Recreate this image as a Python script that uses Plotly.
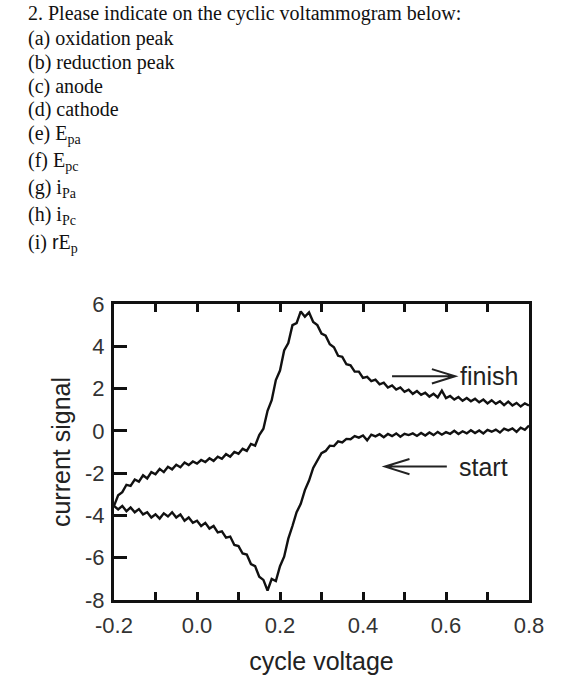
import plotly.graph_objects as go

# ---------------- data ----------------
# cathodic (start) sweep: 0.80 V -> -0.20 V, 0.01 V steps
start_current = [
    0.25, 0.05, 0.15, -0.05, 0.12, 0.02, 0.10, -0.08, 0.06, -0.04,
    0.05, -0.12, 0.02, -0.10, 0.03, -0.12, -0.02, -0.15, 0.00, -0.14,
    -0.06, -0.18, -0.05, -0.20, -0.08, -0.22, -0.10, -0.24, -0.12, -0.20,
    -0.14, -0.28, -0.12, -0.25, -0.15, -0.30, -0.16, -0.26, -0.18, -0.45,
    -0.22, -0.32, -0.25, -0.40, -0.38, -0.55, -0.50, -0.72, -0.70, -0.95,
    -1.05, -1.40, -1.75, -2.35, -2.80, -3.45, -3.85, -4.50, -5.10, -5.95,
    -6.40, -7.10, -7.00, -7.55, -7.05, -6.90, -6.40, -6.30, -5.85, -5.80,
    -5.45, -5.40, -5.00, -5.05, -4.75, -4.80, -4.50, -4.62, -4.35, -4.50,
    -4.25, -4.35, -4.10, -4.25, -3.95, -4.10, -3.85, -4.05, -3.90, -4.15,
    -3.95, -4.10, -3.85, -3.95, -3.70, -3.85, -3.62, -3.80, -3.55, -3.72,
    -3.55,
]
# anodic (finish) sweep: -0.20 V -> 0.80 V, 0.01 V steps
finish_current = [
    -3.55, -3.05, -2.90, -2.55, -2.60, -2.30, -2.40, -2.10, -2.25, -1.95,
    -2.05, -1.80, -1.95, -1.70, -1.82, -1.60, -1.72, -1.50, -1.62, -1.45,
    -1.55, -1.38, -1.48, -1.30, -1.42, -1.22, -1.32, -1.10, -1.22, -1.00,
    -1.08, -0.85, -0.95, -0.62, -0.70, -0.20, 0.10, 0.95, 1.45, 2.40,
    2.85, 3.80, 4.15, 5.00, 5.10, 5.65, 5.40, 5.60, 5.15, 5.00,
    4.60, 4.50, 4.10, 3.95, 3.55, 3.50, 3.15, 3.10, 2.80, 2.80,
    2.50, 2.55, 2.35, 2.42, 2.20, 2.28, 2.05, 2.15, 1.95, 2.05,
    1.85, 1.95, 1.75, 1.88, 1.70, 1.80, 1.62, 1.75, 1.58, 1.90,
    1.55, 1.65, 1.48, 1.60, 1.42, 1.55, 1.40, 1.52, 1.35, 1.48,
    1.30, 1.45, 1.28, 1.40, 1.22, 1.38, 1.20, 1.32, 1.15, 1.30,
    1.20,
]
start_voltage = [round(0.80 - 0.01 * i, 2) for i in range(len(start_current))]
finish_voltage = [round(-0.20 + 0.01 * i, 2) for i in range(len(finish_current))]

x_tickvals = [-0.2, -0.1, 0.0, 0.1, 0.2, 0.3, 0.4, 0.5, 0.6, 0.7, 0.8]
x_ticktext = ["-0.2", "", "0.0", "", "0.2", "", "0.4", "", "0.6", "", "0.8"]
y_tickvals = [-8, -6, -4, -2, 0, 2, 4, 6]
y_ticktext = ["-8", "-6", "-4", "-2", "0", "2", "4", "6"]

question_lines = [
    "2. Please indicate on the cyclic voltammogram below:",
    "(a) oxidation peak",
    "(b) reduction peak",
    "(c) anode",
    "(d) cathode",
    "(e) E<sub>pa</sub>",
    "(f) E<sub>pc</sub>",
    "(g) i<sub>Pa</sub>",
    "(h) i<sub>Pc</sub>",
    "(i) <span style='font-family:Liberation Sans'>r</span>E<sub>p</sub>",
]
question_line_px = [13, 38.5, 62, 86, 110, 134, 161, 188, 216, 243]

# ---------------- figure ----------------
W, H = 566, 700
L, R, T, B = 114, 37, 304, 100
plot_h = H - T - B

fig = go.Figure()
fig.add_trace(go.Scatter(
    x=start_voltage + finish_voltage[1:],
    y=start_current + finish_current[1:],
    mode="lines",
    line=dict(color="#111111", width=2.4),
    hoverinfo="skip",
    showlegend=False,
))

sans = "Liberation Sans, Arial, sans-serif"
serif = "Liberation Serif, Times New Roman, serif"

annotations = []
for txt, py in zip(question_lines, question_line_px):
    annotations.append(dict(
        text=txt, xref="paper", yref="paper",
        x=(26 - L) / (W - L - R), y=(H - B - py) / plot_h,
        xanchor="left", yanchor="middle", showarrow=False,
        font=dict(family=serif, size=20, color="#111111"),
    ))

annotations.append(dict(text="finish", x=0.628, y=2.58, xref="x", yref="y",
                        xanchor="left", yanchor="middle", showarrow=False,
                        font=dict(family=sans, size=25, color="#222222")))
annotations.append(dict(text="start", x=0.627, y=-1.69, xref="x", yref="y",
                        xanchor="left", yanchor="middle", showarrow=False,
                        font=dict(family=sans, size=25, color="#222222")))

shapes = [
    # finish arrow (points right)
    dict(type="path", xref="x", yref="y",
         path="M 0.470,2.58 L 0.622,2.58 M 0.566,2.92 L 0.622,2.58 L 0.566,2.24",
         line=dict(color="#222222", width=2)),
    # start arrow (points left)
    dict(type="path", xref="x", yref="y",
         path="M 0.602,-1.69 L 0.453,-1.69 M 0.512,-1.33 L 0.453,-1.69 L 0.512,-2.05",
         line=dict(color="#222222", width=2)),
]

fig.update_layout(
    width=W, height=H,
    margin=dict(l=L, r=R, t=T, b=B, pad=0),
    paper_bgcolor="white", plot_bgcolor="white",
    annotations=annotations, shapes=shapes,
    font=dict(family=sans, color="#222222"),
)
fig.update_xaxes(
    range=[-0.2, 0.8], showgrid=False, zeroline=False,
    showline=True, linewidth=3, linecolor="#111111", mirror="ticks",
    ticks="inside", ticklen=8, tickwidth=2.5, tickcolor="#111111",
    tickvals=x_tickvals, ticktext=x_ticktext, ticklabelstandoff=4,
    tickfont=dict(family=sans, size=22, color="#333333"),
    title=dict(text="cycle voltage", font=dict(family=sans, size=25, color="#222222"), standoff=16),
)
fig.update_yaxes(
    range=[-8, 6], showgrid=False, zeroline=False,
    showline=True, linewidth=3, linecolor="#111111", mirror=True,
    ticks="inside", ticklen=13, tickwidth=2.5, tickcolor="#111111",
    tickvals=y_tickvals, ticktext=y_ticktext, ticklabelstandoff=2,
    tickfont=dict(family=sans, size=22, color="#333333"),
    title=dict(text="current signal", font=dict(family=sans, size=25, color="#222222"), standoff=8),
)

fig.write_html("out.html")
